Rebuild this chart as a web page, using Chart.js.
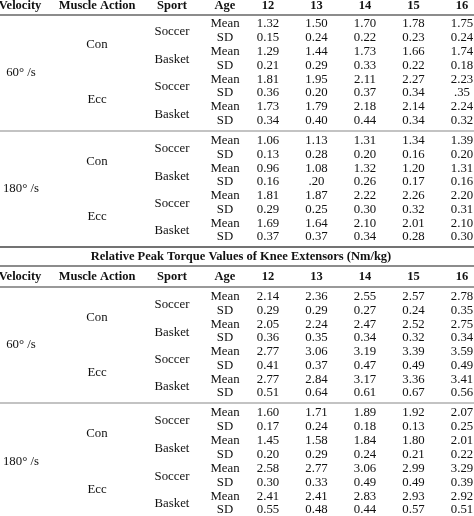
<!DOCTYPE html>
<html><head><meta charset="utf-8">
<script src="https://cdn.jsdelivr.net/npm/chart.js@4"></script>
<style>html,body{margin:0;padding:0;background:#fff}#c{display:block}</style>
</head><body>
<div style="width:474px;height:516px"><canvas id="c"></canvas></div>
<script>
const ages = ["12","13","14","15","16"];
const velocities = ["60° /s","180° /s"];
const actions = ["Con","Ecc"];
const sports = ["Soccer","Basket"];
const stats = ["Mean","SD"];
const title2 = "Relative Peak Torque Values of Knee Extensors (Nm/kg)";
const table1 = [
 ["1.32","1.50","1.70","1.78","1.75"],
 ["0.15","0.24","0.22","0.23","0.24"],
 ["1.29","1.44","1.73","1.66","1.74"],
 ["0.21","0.29","0.33","0.22","0.18"],
 ["1.81","1.95","2.11","2.27","2.23"],
 ["0.36","0.20","0.37","0.34",".35"],
 ["1.73","1.79","2.18","2.14","2.24"],
 ["0.34","0.40","0.44","0.34","0.32"],
 ["1.06","1.13","1.31","1.34","1.39"],
 ["0.13","0.28","0.20","0.16","0.20"],
 ["0.96","1.08","1.32","1.20","1.31"],
 ["0.16",".20","0.26","0.17","0.16"],
 ["1.81","1.87","2.22","2.26","2.20"],
 ["0.29","0.25","0.30","0.32","0.31"],
 ["1.69","1.64","2.10","2.01","2.10"],
 ["0.37","0.37","0.34","0.28","0.30"]
];
const table2 = [
 ["2.14","2.36","2.55","2.57","2.78"],
 ["0.29","0.29","0.27","0.24","0.35"],
 ["2.05","2.24","2.47","2.52","2.75"],
 ["0.36","0.35","0.34","0.32","0.34"],
 ["2.77","3.06","3.19","3.39","3.59"],
 ["0.41","0.37","0.47","0.49","0.49"],
 ["2.77","2.84","3.17","3.36","3.41"],
 ["0.51","0.64","0.61","0.67","0.56"],
 ["1.60","1.71","1.89","1.92","2.07"],
 ["0.17","0.24","0.18","0.13","0.25"],
 ["1.45","1.58","1.84","1.80","2.01"],
 ["0.20","0.29","0.24","0.21","0.22"],
 ["2.58","2.77","3.06","2.99","3.29"],
 ["0.30","0.33","0.49","0.49","0.39"],
 ["2.41","2.41","2.83","2.93","2.92"],
 ["0.55","0.48","0.44","0.57","0.51"]
];

const colX = k => 268 + 48.5*k;
const T = [
  {hdr:6, y0:24, s0:13.8, y1:141, s1:13.7, data:table1, lines:[[15,1.6,'#666'],[131,1.2,'#888'],[247,1.6,'#444']]},
  {hdr:277, y0:297, s0:13.7, y1:413, s1:13.86, data:table2, lines:[[266,1.6,'#666'],[287,1.6,'#777'],[403,1.2,'#888']]}
];
const rowY = (t,i) => i<8 ? t.y0 + t.s0*i : t.y1 + t.s1*(i-8);

const datasets = T.map(t => ({
  data: t.data.flatMap((row,i) => row.map((v,k) => ({x:colX(k), y:rowY(t,i), label:v}))),
  pointRadius:0, showLine:false
}));

const FONT = '"Liberation Serif", "DejaVu Serif", serif';
const tablePlugin = {
  id:'table',
  afterDatasetsDraw(chart){
    const ctx = chart.ctx, xs = chart.scales.x, ys = chart.scales.y;
    const X = v => xs.getPixelForValue(v), Y = v => ys.getPixelForValue(v);
    ctx.save();
    ctx.textBaseline = 'middle'; ctx.textAlign = 'center'; ctx.fillStyle = '#111';
    T.forEach((t,ti) => {
      t.lines.forEach(([y,w,c]) => { ctx.strokeStyle=c; ctx.lineWidth=w; ctx.beginPath(); ctx.moveTo(X(0),Y(y)); ctx.lineTo(X(474),Y(y)); ctx.stroke(); });
      ctx.font = 'bold 12.5px ' + FONT;
      const hy = Y(t.hdr);
      ctx.fillText('Velocity', X(20), hy);
      ctx.fillText('Muscle Action', X(97), hy);
      ctx.fillText('Sport', X(172), hy);
      ctx.fillText('Age', X(225), hy);
      ages.forEach((a,k) => ctx.fillText(a, X(colX(k)), hy));
      ctx.font = '12.8px ' + FONT;
      for (let i=0;i<16;i++) ctx.fillText(stats[i%2], X(225), Y(rowY(t,i)));
      for (let g=0; g<8; g++) ctx.fillText(sports[g%2], X(172), Y((rowY(t,2*g)+rowY(t,2*g+1))/2 + 1));
      for (let g=0; g<4; g++) ctx.fillText(actions[g%2], X(97), Y((rowY(t,4*g)+rowY(t,4*g+3))/2));
      for (let g=0; g<2; g++) ctx.fillText(velocities[g], X(21), Y((rowY(t,8*g+3)+rowY(t,8*g+4))/2));
      const meta = chart.getDatasetMeta(ti);
      meta.data.forEach((el,j) => ctx.fillText(chart.data.datasets[ti].data[j].label, el.x, el.y));
    });
    ctx.font = 'bold 12.5px ' + FONT;
    ctx.fillText(title2, X(241), Y(257));
    ctx.restore();
  }
};

new Chart(document.getElementById('c'), {
  type:'scatter',
  data:{datasets},
  options:{
    responsive:true, maintainAspectRatio:false, animation:false,
    layout:{padding:0},
    plugins:{legend:{display:false}, tooltip:{enabled:false}},
    scales:{
      x:{type:'linear', min:0, max:474, display:false},
      y:{type:'linear', min:0, max:516, reverse:true, display:false}
    }
  },
  plugins:[tablePlugin]
});
</script>
</body></html>
